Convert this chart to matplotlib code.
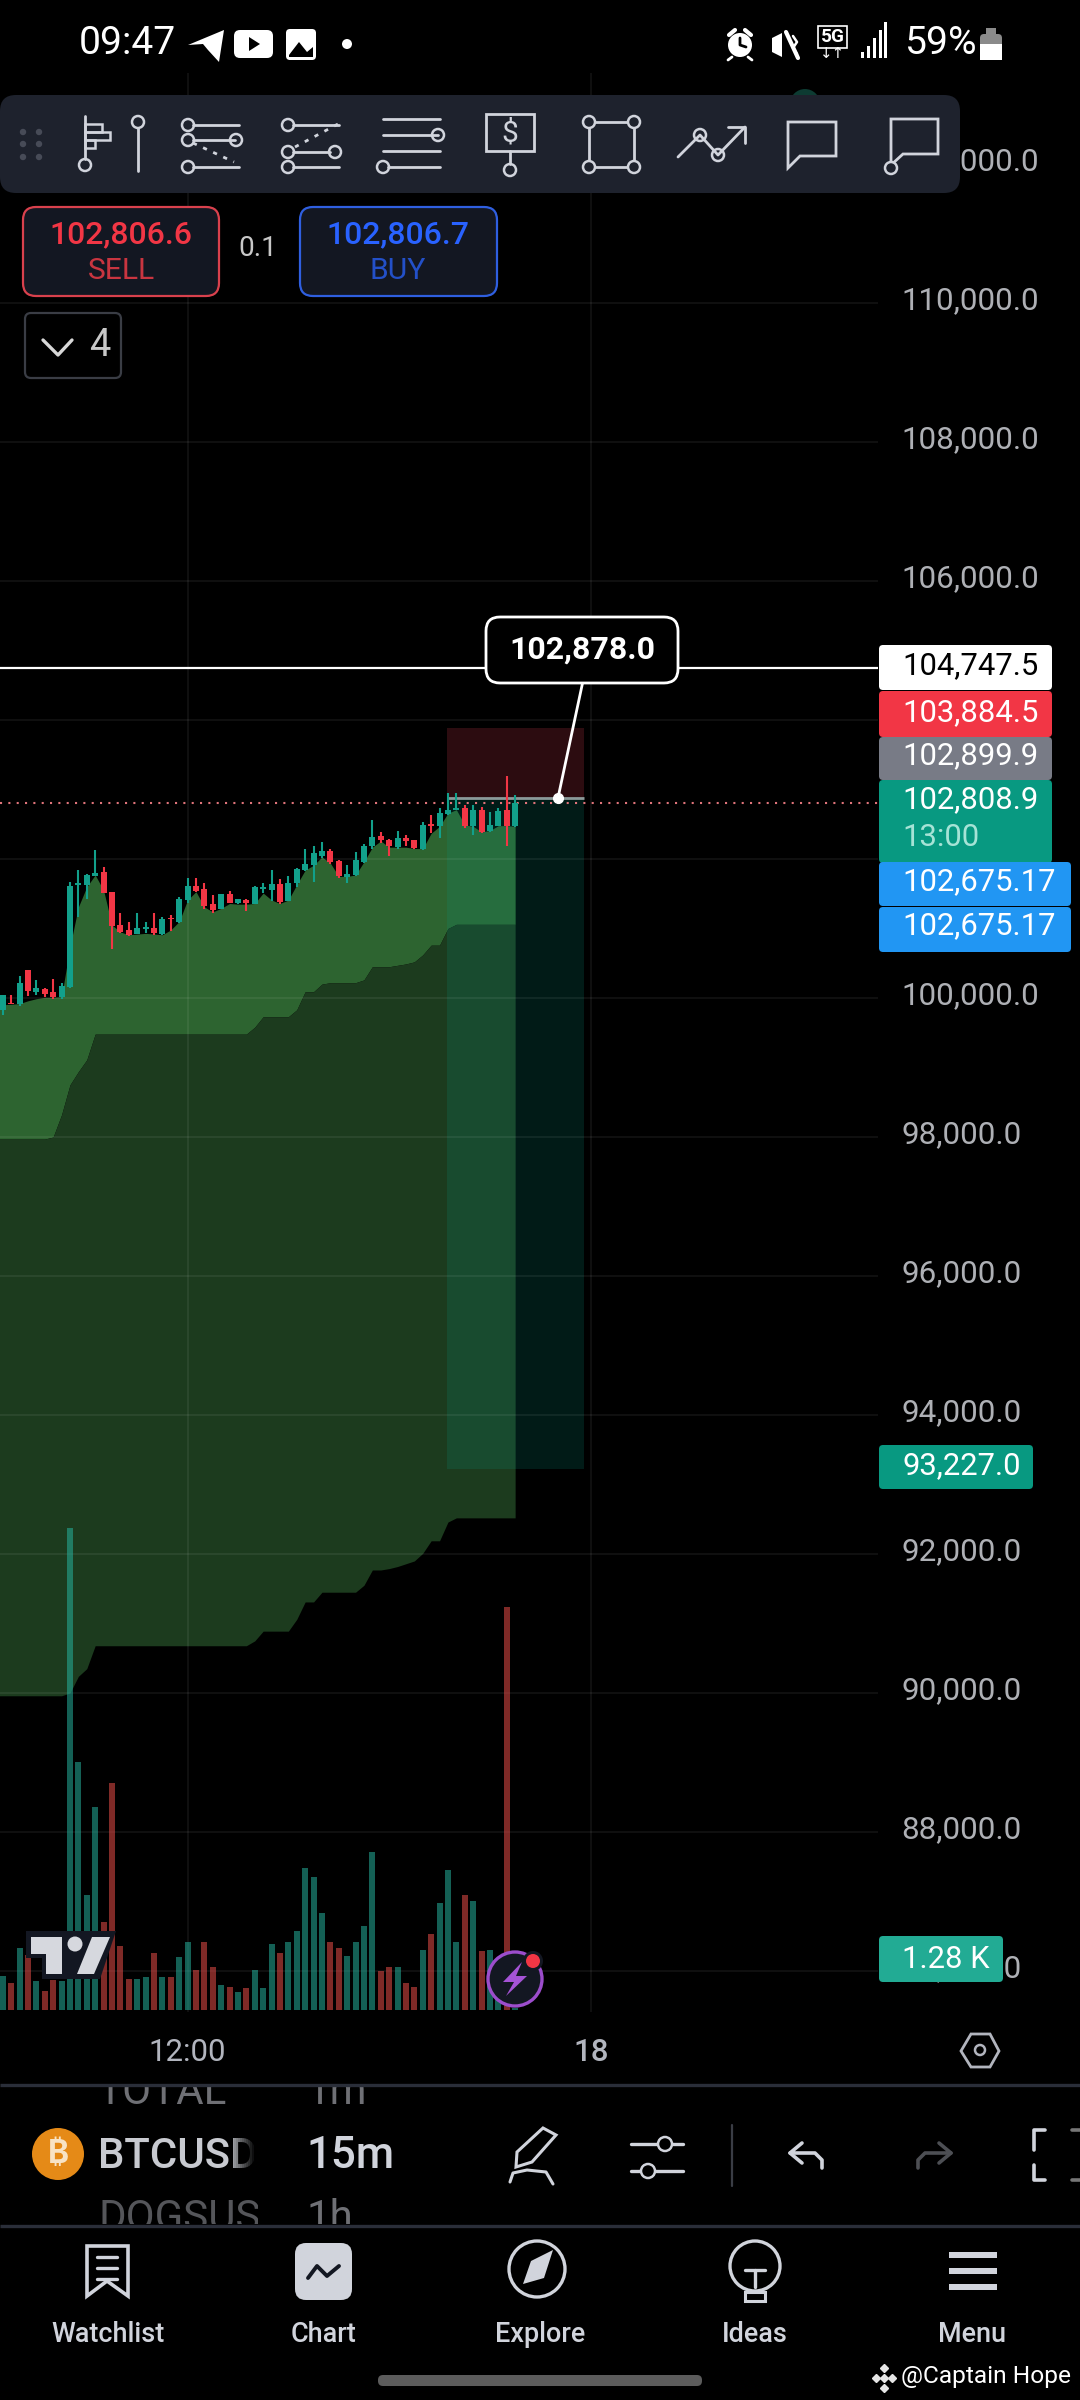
import numpy as np
import matplotlib
matplotlib.use("Agg")
import matplotlib.pyplot as plt
from matplotlib.patches import Circle, FancyBboxPatch, Polygon, Rectangle
from matplotlib.transforms import ScaledTranslation

plt.rcParams['font.family'] = ['Roboto', 'DejaVu Sans']

# candles, 15m bars
opens = [99830, 99920, 99910, 100400, 100090, 100130, 100090, 100020, 100160, 101630, 101630, 101760, 101810, 101520, 101050,
         100980, 100920, 101000, 101010, 100920, 101150, 101100, 101410, 101610, 101570, 101350, 101280, 101500, 101370, 101410,
         101350, 101570, 101560, 101640, 101400, 101650, 101840, 101910, 102050, 102120, 101970, 101740, 101770, 101960, 102180,
         102330, 102280, 102170, 102300, 102270, 102150, 102500, 102470, 102650, 102700, 102730, 102480, 102710, 102410, 102480,
         102700, 102470]
closes = [100040, 99910, 100220, 100100, 100140, 100060, 100020, 100170, 101610, 101650, 101770, 101800, 101510, 101040, 100950,
          100910, 101000, 101020, 100930, 101140, 101130, 101420, 101610, 101540, 101330, 101270, 101500, 101370, 101420, 101360,
          101590, 101590, 101640, 101380, 101660, 101850, 101930, 102080, 102120, 101950, 101750, 101790, 101990, 102190, 102320,
          102270, 102180, 102300, 102260, 102160, 102490, 102480, 102660, 102710, 102730, 102480, 102710, 102390, 102490, 102690,
          102480, 102810]
highs = [100050, 100050, 100310, 100400, 100260, 100140, 100270, 100210, 101670, 101840, 101780, 102130, 101890, 101520, 101220,
         101090, 101220, 101090, 101230, 101160, 101190, 101460, 101730, 101730, 101650, 101480, 101500, 101540, 101430, 101420,
         101610, 101650, 101840, 101710, 101750, 101870, 102140, 102190, 102240, 102150, 101990, 101910, 102100, 102220, 102560,
         102390, 102290, 102400, 102350, 102270, 102530, 102630, 102740, 102950, 102950, 102780, 102780, 102750, 102670, 102730,
         103200, 102920]
lows = [99750, 99910, 99880, 100030, 100050, 100020, 99990, 99990, 100150, 101170, 101430, 101750, 101510, 100710, 100930,
        100890, 100920, 100930, 100910, 100900, 100970, 101080, 101360, 101530, 101280, 101230, 101280, 101360, 101350, 101250,
        101350, 101510, 101390, 101350, 101390, 101600, 101830, 101670, 102020, 101930, 101730, 101660, 101750, 101940, 102140,
        102230, 102040, 102150, 102180, 102150, 102130, 102380, 102300, 102630, 102700, 102440, 102350, 102370, 102390, 102480,
        102190, 102460]
volumes = [0.86, 0.67, 1.57, 1.37, 0.72, 0.48, 0.76, 0.74, 12.11, 6.22, 2.88, 5.09, 2.22, 5.70, 1.62, 0.77, 0.77, 0.82, 1.43,
           0.82, 0.82, 1.32, 1.72, 1.00, 1.70, 1.07, 0.64, 0.57, 0.44, 0.55, 1.00, 0.55, 1.67, 1.44, 1.70, 1.99, 3.58, 3.35,
           2.43, 1.70, 1.57, 1.35, 1.70, 2.10, 3.98, 0.97, 1.07, 1.07, 0.67, 0.57, 1.50, 1.90, 2.68, 3.53, 1.72, 2.88, 2.73,
           1.47, 1.52, 0.40, 10.13, 0.06]

# the green bands behind the candles
band_top = [99900, 99910, 99920, 99960, 99990, 100010, 100010, 100020, 100740, 101310, 101600, 101770, 101550, 101050, 100950,
            100910, 100920, 100930, 100920, 100910, 100980, 101100, 101410, 101530, 101310, 101240, 101290, 101360, 101350,
            101350, 101360, 101510, 101410, 101360, 101410, 101630, 101840, 101910, 102030, 101940, 101750, 101750, 101770,
            101960, 102170, 102260, 102170, 102170, 102170, 102150, 102150, 102370, 102470, 102660, 102710, 102490, 102470,
            102390, 102410, 102480, 102480, 102470]
band_mid = [97970, 97970, 97970, 97970, 97970, 97970, 98000, 98320, 98750, 98940, 99110, 99480, 99480, 99480, 99480, 99480,
            99480, 99480, 99480, 99480, 99480, 99480, 99480, 99480, 99480, 99480, 99480, 99480, 99480, 99480, 99580, 99730,
            99730, 99730, 99730, 99830, 100090, 100090, 100200, 100220, 100220, 100220, 100220, 100260, 100450, 100450, 100450,
            100470, 100490, 100520, 100620, 100760, 100760, 101000, 101060, 101060, 101060, 101060, 101060, 101060, 101060,
            101060]
band_low = [89960, 89960, 89960, 89960, 89960, 89960, 89960, 89960, 90000, 90240, 90350, 90680, 90680, 90680, 90680, 90680,
            90680, 90680, 90680, 90680, 90680, 90680, 90680, 90680, 90680, 90680, 90680, 90680, 90680, 90680, 90750, 90890,
            90890, 90890, 90890, 91060, 91310, 91310, 91450, 91450, 91450, 91450, 91450, 91550, 91770, 91770, 91790, 91820,
            91860, 91900, 92010, 92190, 92190, 92460, 92520, 92520, 92520, 92520, 92520, 92520, 92520, 92520]

price_ticks = list(range(86000, 112001, 2000))
hidden_ticks = [102000, 104000]  # sit behind the price tags
time_ticks = [22, 70]
time_labels = ['12:00', '18']
entry = 102878.0
stop = 103884.5
target = 93227.0
alert = 104747.5
last = 102808.9
box_left, box_right = 52.85, 69.2
entry_x = 66.1

UP, DOWN = '#12a08b', '#f23645'
ICON = '#d1d4dc'
PANEL = '#1e222d'

W, H = 1080, 2400
fig = plt.figure(figsize=(10.8, 24), dpi=100, facecolor='black')
CH_TOP, CH_BOT, CH_R = 73, 2012, 878
pos = [0, 1 - CH_BOT / H, CH_R / W, (CH_BOT - CH_TOP) / H]

ax = fig.add_axes(pos, facecolor='black')
x = np.arange(len(opens))
o, c, hi, lo = map(np.array, (opens, closes, highs, lows))
up = c >= o
x_area = x.astype(float)
x_area[0] = -0.4

ax.fill_between(x_area, band_top, band_mid, color='#2d6430', lw=0, zorder=1)
ax.fill_between(x_area, band_mid, band_low, color='#1c3b1e', lw=0, zorder=1)
ax.axhspan(entry, stop, (box_left + 0.33) / 104.53, (box_right + 0.33) / 104.53, color='#2c0c10', lw=0, zorder=1.2)
ax.axhspan(target, entry, (box_left + 0.33) / 104.53, (box_right + 0.33) / 104.53, color='#089981', alpha=0.18, lw=0, zorder=1.2)
ax.hlines(entry, box_left, box_right, color='#8c9a9a', lw=2, zorder=2.5)

ax.vlines(x, lo, hi, colors=[UP if u else DOWN for u in up], lw=1.5, zorder=3)
ax.bar(x, np.maximum(np.abs(c - o), 25), 0.71, bottom=np.minimum(o, c), color=[UP if u else DOWN for u in up], lw=0, zorder=3.1)

ax.axhline(alert, color='white', lw=1.6, zorder=4)
ax.axhline(last, color='#e0747a', lw=1.5, ls=(0, (1, 3)), zorder=2.8)
ax.plot([entry_x, entry_x + 2.9], [entry, entry + 1640], color='white', lw=2, zorder=5)
ax.plot([entry_x], [entry], 'o', color='white', ms=7, zorder=6)

ax.set_xlim(-0.33, 104.2)
ax.set_ylim(102000 - (CH_BOT - 859) / 0.0695, 102000 + (859 - CH_TOP) / 0.0695)
ax.set_yticks(price_ticks)
ax.set_yticklabels(['' if v in hidden_ticks else f'{v:,.0f}.0' for v in price_ticks])
ax.set_xticks(time_ticks)
ax.set_xticklabels(time_labels)
ax.yaxis.tick_right()
ax.tick_params(axis='y', length=0, pad=17, labelsize=22.6, labelcolor='#aeb0b5')
ax.tick_params(axis='x', length=0, pad=19, labelsize=22.5, labelcolor='#b2b5be')
for tick in ax.yaxis.get_major_ticks():
    tick.label2.set_transform(tick.label2.get_transform() + ScaledTranslation(0, 5 / 100, fig.dpi_scale_trans))
ax.grid(True, color='white', alpha=0.075, lw=1.2, zorder=1.8)
ax.set_axisbelow(False)
for s in ax.spines.values():
    s.set_visible(False)
ax.get_xticklabels()[1].set_fontweight('medium')

vax = fig.add_axes(pos, facecolor='none')
vax.bar(x, volumes, 0.71, color=['#26b09c' if u else '#e84d48' for u in up], alpha=0.55, lw=0)
vax.set_xlim(ax.get_xlim())
vax.set_ylim(-2 / 39.8, (2010 - CH_TOP) / 39.8)
vax.axis('off')

# everything else is phone and app chrome, drawn in screen pixels
ui = fig.add_axes([0, 0, 1, 1], facecolor='none')
ui.set_xlim(0, W)
ui.set_ylim(H, 0)
ui.axis('off')


def txt(px, py, s, size, color='white', ha='left', weight='normal', **kw):
    return ui.text(px, py, s, fontsize=size * 0.72, color=color, ha=ha, va='center', fontweight=weight, **kw)


def rbox(x0, y0, x1, y1, fc, ec='none', lw=0, r=6, z=5):
    p = FancyBboxPatch((x0 + r, y0 + r), x1 - x0 - 2 * r, y1 - y0 - 2 * r, boxstyle=f'round,pad={r}',
                       fc=fc, ec=ec, lw=lw, zorder=z)
    ui.add_patch(p)
    return p


def line(xs, ys, color=ICON, lw=2, z=9, **kw):
    ui.plot(xs, ys, color=color, lw=lw, zorder=z, solid_capstyle='round', **kw)


def ring(px, py, r=6, color=ICON, fc=PANEL, lw=1.8, z=8):
    ui.add_patch(Circle((px, py), r, fc=fc, ec=color, lw=lw, zorder=z))


def clipped(t, x0, y0, x1, y1):
    t.set_clip_on(True)
    t.set_clip_path(Rectangle((x0, y0), x1 - x0, y1 - y0, transform=ui.transData))


# price labels on the scale
tags = [(645, 690, 1052, 'white', '104,747.5', 'black', 666), (691, 737, 1052, '#f23645', '103,884.5', 'white', 713),
        (737, 780, 1052, '#787b86', '102,899.9', 'white', 756), (780, 863, 1052, '#089981', '102,808.9', 'white', 800),
        (862, 906, 1071, '#2196f3', '102,675.17', 'white', 882), (907, 952, 1071, '#2196f3', '102,675.17', 'white', 926),
        (1445, 1489, 1033, '#089981', '93,227.0', 'white', 1466), (1936, 1982, 1003, '#22ab94', '1.28 K', 'white', 1960)]
for y0, y1, x1, col, label, tc, yc in tags:
    rbox(879, y0, x1, y1, col, r=4)
    txt(902, yc, label, 31, tc, zorder=6)
txt(902, 837, '13:00', 31, '#a6e3d6', zorder=6)

# callout
rbox(486, 617, 678, 683, 'black', 'white', 2, r=14, z=7)
txt(582, 650, '102,878.0', 32, 'white', ha='center', weight='bold', zorder=8)

# status bar
txt(79, 43, '09:47', 39, 'white')
ui.add_patch(Polygon([(188, 45), (224, 30), (219, 62), (208, 50), (203, 44)], fc='white', zorder=7))
rbox(234, 30, 273, 58, 'white', r=6)
ui.add_patch(Polygon([(249, 37), (249, 51), (260, 44)], fc='black', zorder=7))
rbox(286, 29, 316, 60, 'white', r=4)
ui.add_patch(Polygon([(289, 55), (299, 42), (307, 52), (313, 47), (313, 57), (289, 57)], fc='black', zorder=7))
ui.add_patch(Circle((347, 44), 5, fc='white', zorder=7))
ui.add_patch(Circle((740, 45), 12, fc='white', zorder=7))
line([740, 740, 746], [38, 45, 47], 'black', 2)
line([729, 735], [35, 30], 'white', 3)
line([751, 745], [35, 30], 'white', 3)
line([732, 728], [57, 60], 'white', 2)
line([748, 752], [57, 60], 'white', 2)
ui.add_patch(Polygon([(772, 38), (782, 33), (782, 57), (772, 52)], fc='white', zorder=7))
line([786, 798], [32, 58], 'white', 3)
line([793, 797, 793, 797], [36, 42, 48, 54], 'white', 1.8)
txt(833, 37, '5G', 19, 'white', ha='center', weight='bold', zorder=7)
ui.add_patch(Rectangle((818, 26), 29, 22, fc='none', ec='white', lw=1.2, zorder=7))
txt(833, 54, '↓↑', 15, 'white', ha='center', zorder=7)
ui.bar([862, 868, 874, 880, 885], [6, 12, 20, 28, 36], 3.0, bottom=[52, 46, 38, 30, 22], color='white', zorder=7)
txt(904, 43, '59%', 39, 'white')
rbox(980, 34, 1002, 60, '#8a8a8a', r=4)
ui.add_patch(Rectangle((980, 44), 22, 16, fc='white', zorder=7))
ui.add_patch(Rectangle((986, 28), 10, 7, fc='#8a8a8a', zorder=7))

# drawing toolbar
ui.add_patch(Circle((805, 104), 15, fc='#0d3b32', zorder=4))
rbox(0, 95, 960, 193, PANEL, r=16, z=5)
for dx in (23, 39):
    for dy in (132, 144, 157):
        ui.add_patch(Circle((dx, dy), 3.2, fc='#474b57', zorder=6))
# profile + pin
line([85, 85], [116, 159])
ring(85, 165)
for y0, y1, w in ((124, 132, 17), (132, 140, 25), (140, 148, 10)):
    ui.add_patch(Rectangle((85, y0), w, y1 - y0, fc='none', ec=ICON, lw=1.8, zorder=7))
ring(138, 122)
line([138, 138], [128, 171])
# parallel channels
line([193, 239], [125, 125]); ring(188, 125)
line([193, 235], [140, 140]); ring(188, 140); ring(236, 140)
line([193, 234], [143, 162], ls=(0, (1.5, 2.5))); line([193, 239], [167, 167]); ring(188, 167)
line([293, 339], [125, 125]); ring(288, 125)
line([293, 330], [152, 152]); ring(288, 152); ring(335, 152)
line([293, 339], [167, 167]); ring(288, 167)
line([295, 338], [147, 124], ls=(0, (1.5, 2.5)))
line([383, 440], [119, 119]); line([383, 438], [135, 135]); ring(438, 135)
line([383, 440], [151, 151]); line([388, 440], [167, 167]); ring(383, 167)
# price note
ui.add_patch(Rectangle((486, 114), 48, 37, fc='none', ec=ICON, lw=2, zorder=7))
txt(510, 133, '$', 30, ICON, ha='center', zorder=8)
line([510, 510], [151, 164]); ring(510, 170)
# rectangle
ui.add_patch(Rectangle((589, 122), 45, 45, fc='none', ec=ICON, lw=2, zorder=7))
for px in (589, 634):
    for py in (122, 167):
        ring(px, py)
# path
line([678, 700, 718, 745], [157, 135, 155, 127]); line([728, 745, 745], [127, 127, 143])
ring(700, 135); ring(718, 155)
# callouts
ui.add_patch(Polygon([(788, 122), (836, 122), (836, 156), (800, 156), (788, 168)], fc=PANEL, ec=ICON, lw=2, zorder=7))
ui.add_patch(Polygon([(891, 119), (938, 119), (938, 154), (903, 154), (891, 165)], fc=PANEL, ec=ICON, lw=2, zorder=7))
ring(891, 168)

# sell / buy panel
rbox(23, 207, 219, 296, '#131722', '#d9414d', 1.6, r=13)
rbox(300, 207, 497, 296, '#131722', '#2f5fe0', 1.6, r=13)
txt(121, 235, '102,806.6', 32, '#f23645', ha='center', weight='medium', zorder=6)
txt(121, 271, 'SELL', 30, '#c93540', ha='center', zorder=6)
txt(398, 235, '102,806.7', 32, '#2962ff', ha='center', weight='medium', zorder=6)
txt(398, 271, 'BUY', 30, '#2350c8', ha='center', zorder=6)
txt(258, 249, '0.1', 28, '#c8c8c8', ha='center', zorder=6)
rbox(25, 313, 121, 378, 'black', '#3a3d45', 1.6, r=6)
line([43, 58, 72], [340, 355, 340], '#d8d8d8', 2.4)
txt(100, 345, '4', 38, '#c8c8c8', ha='center', zorder=6)

# tradingview logo and lightning button
ui.add_patch(Polygon([(26, 1931), (116, 1931), (100, 1979), (42, 1979), (42, 1958), (26, 1958)], fc='#131722', zorder=5))
ui.add_patch(Polygon([(31, 1937), (62, 1937), (62, 1974), (46, 1974), (46, 1954), (31, 1954)], fc='#d6d8de', zorder=6))
ui.add_patch(Circle((75, 1944), 7.5, fc='#d6d8de', zorder=6))
ui.add_patch(Polygon([(92, 1937), (110, 1937), (94, 1974), (77, 1974)], fc='#d6d8de', zorder=6))
ui.add_patch(Circle((515, 1979), 27, fc='#131722', ec='#9c4dcc', lw=2.4, zorder=6))
ui.add_patch(Polygon([(522, 1962), (503, 1982), (514, 1982), (506, 1996), (527, 1976), (516, 1976)], fc='#a553d6', zorder=7))
ui.add_patch(Circle((533, 1961), 10, fc='#131722', zorder=7))
ui.add_patch(Circle((533, 1961), 7, fc='#f23645', zorder=8))
# hexagon settings
ui.add_patch(Polygon([(971, 2034), (990, 2034), (999, 2051), (990, 2067), (971, 2067), (961, 2051)], fc='none', ec='#b2b5be', lw=2, zorder=7))
ring(980, 2050, 5, '#b2b5be', 'black', 1.8)

# symbol picker row
ui.hlines([2085, 2226], 0, W, color='#2a2e39', lw=2.4, zorder=6)
for px, py, s, col, xr in ((98, 2092, 'TOTAL', '#6f7075', 262), (306, 2092, '1m', '#6f7075', 500),
                           (98, 2219, 'DOGSUS', '#55565a', 258), (306, 2219, '1h', '#6f7075', 500)):
    clipped(txt(px, py, s, 42, col, zorder=5), 0, 2087, xr, 2224)
ui.add_patch(Circle((58, 2154), 26, fc='#e58a17', zorder=6))
txt(58, 2154, '₿', 32, '#f8e3c4', ha='center', weight='bold', zorder=7, family=['Inter', 'Noto Sans', 'Lato', 'Open Sans', 'DejaVu Sans'])
clipped(txt(98, 2156, 'BTCUSDT', 42, '#c8cad0', weight='medium', zorder=6), 0, 2100, 256, 2200)
for i in range(14):
    ui.add_patch(Rectangle((228 + i * 2, 2120), 2.2, 70, fc='black', ec='none', alpha=(i + 1) / 14, zorder=6.5))
txt(306, 2156, '15m', 44, '#d1d4dc', weight='medium', zorder=6)
# pencil, sliders, undo, redo, full screen
ui.add_patch(Polygon([(516, 2167), (517, 2152), (543, 2128), (556, 2135), (532, 2162)], fc='none', ec=ICON, lw=2.2, zorder=7))
line([510, 513, 527, 546, 553], [2182, 2173, 2170, 2172, 2184], lw=2.2)
line([631, 683], [2144, 2144], lw=2.4); ring(665, 2144, 7, ICON, 'black', z=10)
line([631, 683], [2171, 2171], lw=2.4); ring(648, 2171, 7, ICON, 'black', z=10)
line([732, 732], [2125, 2186], '#3a3d45', 1.6)
line([822, 822, 815, 790, 802], [2168, 2160, 2153, 2153, 2143], lw=2.6)
line([790, 802], [2153, 2163], lw=2.6)
line([918, 918, 925, 951, 939], [2168, 2160, 2153, 2153, 2143], '#4d4f54', 2.6)
line([951, 939], [2153, 2163], '#4d4f54', 2.6)
line([1045, 1034, 1034], [2130, 2130, 2150], lw=2.6)
line([1034, 1034, 1045], [2165, 2180, 2180], lw=2.6)
line([1072, 1080], [2130, 2130], '#777777', 2.6)
line([1072, 1080], [2180, 2180], '#777777', 2.6)

# bottom nav
nav_x = [108, 323, 540, 755, 972]
nav_names = ['Watchlist', 'Chart', 'Explore', 'Ideas', 'Menu']
for nx, name in zip(nav_x, nav_names):
    txt(nx, 2334, name, 27, '#d1d4dc', ha='center', weight='medium', zorder=7)
ui.add_patch(Polygon([(87, 2246), (128, 2246), (128, 2296), (107, 2281), (87, 2296)], fc='none', ec=ICON, lw=2.6, zorder=7))
for ny in (2257, 2268, 2279):
    line([97, 117], [ny, ny], lw=2.4)
rbox(295, 2243, 352, 2300, '#d1d4dc', r=11)
line([308, 317, 327, 339], [2278, 2266, 2276, 2266], '#131722', 2.8)
ring(537, 2269, 28, ICON, 'black', 2.4)
ui.add_patch(Polygon([(553, 2250), (544, 2278), (523, 2284), (531, 2261)], fc='#d1d4dc', zorder=8))
ring(755, 2266, 25, ICON, 'black', 2.4)
line([745, 765], [2270, 2270], lw=2.4); line([755, 755], [2270, 2287], lw=2.4)
ui.add_patch(Rectangle((745, 2292), 20, 9, fc='none', ec=ICON, lw=2.2, zorder=7))
for ny in (2255, 2271, 2287):
    ui.add_patch(Rectangle((949, ny - 3), 48, 6, fc=ICON, zorder=7))

rbox(378, 2375, 702, 2386, '#5c5c5c', r=5)
for dx, dy in ((884, 2368), (876, 2378), (892, 2378), (884, 2388), (884, 2378)):
    ui.plot([dx], [dy], 'D', color='#e6e6e6', ms=4.2, zorder=8)
txt(901, 2377, '@Captain Hope', 24.5, 'white', zorder=8)

fig.savefig('out.png', dpi=100, facecolor='black')
